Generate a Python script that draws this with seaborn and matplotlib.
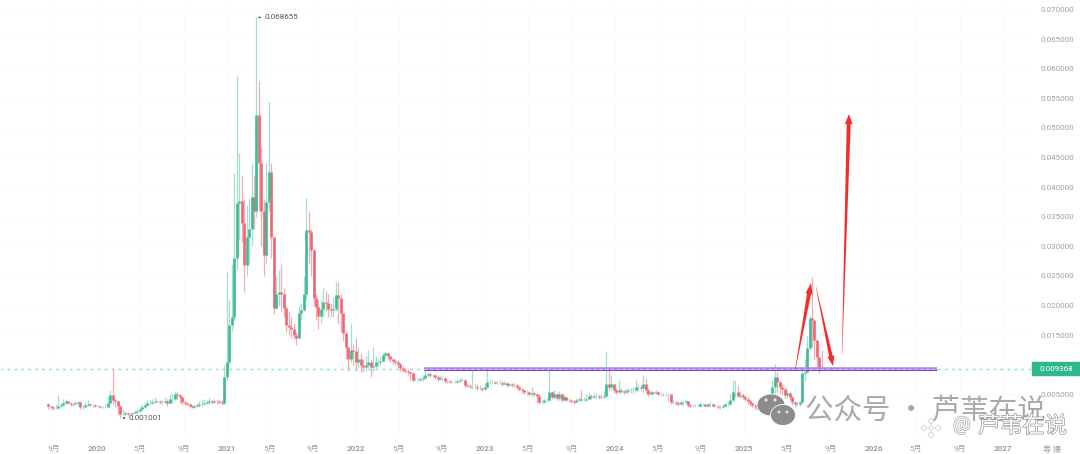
import numpy as np
import pandas as pd
import seaborn as sns
import matplotlib
matplotlib.use('Agg')
import matplotlib.pyplot as plt
import matplotlib.dates as mdates
import matplotlib.patheffects as pe
from matplotlib.patches import Polygon, Ellipse, Rectangle, RegularPolygon
from matplotlib.transforms import IdentityTransform

# weekly candles, prices in units of 0.001
first_open = 3.3
closes = [
    3.1,2.8,2.7,2.7,3.0,3.2,3.6,3.8,3.6,3.4,
    3.3,3.5,3.7,2.9,2.9,3.2,3.3,3.2,3.2,3.1,
    3.0,2.9,2.9,2.9,3.6,4.9,4.0,3.8,3.0,1.6,
    1.7,1.8,1.6,1.7,1.9,2.1,2.2,2.5,2.8,3.2,
    3.5,3.5,3.7,3.9,3.8,3.7,3.7,3.8,3.5,4.2,
    4.3,5.0,4.9,4.6,3.7,3.6,3.4,3.1,2.9,3.0,
    3.2,3.3,3.4,3.6,3.7,3.8,3.7,3.9,3.8,3.7,
    3.5,8.0,10.5,16.7,18,28,37.3,37.6,34,26.8,
    31.5,33,38.3,36,52.2,44,36,28.5,37.5,42.5,
    31.5,19.6,22,22.3,22,19.6,16.7,16.3,16,15,
    14.5,18.7,19.2,22,32.8,32.5,29.4,21.3,19.7,18.3,
    19.5,20.6,20.4,19.5,19.2,19.5,21.8,21.3,18.7,15.4,
    13,11,12.5,12.3,10.5,11,9.9,9.6,10,10.5,
    9.6,9.8,10.5,10.5,10.7,11.6,12,11.4,11,10.7,
    10.5,10.2,9.4,9.1,9,8.7,8.6,7.4,7.5,7.5,
    7.6,7.7,8.2,8.4,8.3,8.2,8,7.6,7.7,7.8,
    7.3,7.2,7.1,7.1,7.1,7.3,7.5,7.4,6.6,6.4,
    6.2,6.2,6.3,6,6,5.9,6.2,7.1,7.1,7.1,
    7,7,7,6.8,7,6.6,6.7,6.5,6.6,6.2,
    5.9,5.7,5.4,5.4,5,5.2,5.1,4.8,3.7,3.7,
    4,4,5.4,4.5,5.1,4.4,5,4.1,4.5,4.1,
    4,3.8,3.7,4,4.2,4.1,4.1,4.3,4.7,4.5,
    4.8,4.8,4.5,4.6,4.8,6.8,6.3,6.8,5.7,5.4,
    5.7,5.6,5.4,5.6,5.7,5.7,5.7,6.2,6.2,6,
    6.8,5.8,5.1,5.4,5.3,5.4,5.1,5.1,5,5,
    5,3.7,3.7,3.6,3.4,3.7,3.7,3.8,3.2,3,
    3.1,3.1,3.1,3.3,3.3,3.1,3.3,3.4,3.1,3.1,
    2.9,2.9,3.1,3.3,3.4,4,5.4,5.4,4.8,4.9,
    4.6,4.3,3.9,3.5,3.2,3,2.7,2.9,2.7,2.6,
    2.5,2.6,6.2,7.9,7.1,6.2,5.9,4.9,5.2,4.6,
    3.7,3.3,3.3,3.7,8.6,8.8,12.9,17.9,17.5,14.1,11.3,9.4,9.368,
]
highs = [
    3.6,3.0,3.0,3.3,4.9,3.6,4.2,4.2,3.9,3.7,
    3.6,3.8,3.9,3.8,3.2,3.7,4.1,3.5,3.4,3.3,
    3.2,3.1,3.0,3.3,4.8,5.8,9.4,4.2,3.9,3.1,
    2.6,2.2,2.0,1.9,2.1,2.4,2.5,2.9,3.3,3.7,
    4.1,4.0,4.2,4.5,4.1,4.0,4.1,4.6,4.2,5.1,
    5.2,5.6,5.4,5.0,4.7,3.9,3.7,3.5,3.2,3.3,
    3.6,3.9,4.0,4.2,4.1,4.6,4.2,4.3,4.2,4.1,
    4.0,10,25.6,21,27,42.4,58.8,45.8,42,38,
    37,38,44,42,68.655,58,46.8,38,44,54.4,
    44,31.5,25,26,27,23,20,19,18,17,
    15.5,20,20.5,25,38.2,36,33,29.5,22,21,
    21,23,22.5,22,20.5,21.5,24,24,22,18.7,
    15.5,13,17,13.5,14.5,13,12,11,11.5,12.5,
    11,13,11.5,11,11.5,12,12.3,12.2,11.5,11.2,
    11,10.8,10.5,9.8,9.4,9.2,9,8.7,7.9,7.9,
    8.0,8.2,9.5,8.8,8.7,8.5,8.4,8.2,8.2,8.1,
    7.9,7.5,7.4,7.3,7.4,7.6,7.8,7.8,7.6,6.8,
    6.7,9.3,7,6.7,6.5,6.3,7.0,9.5,7.5,7.4,
    7.3,7.3,7.4,7.2,7.3,7.1,7,6.9,6.9,6.8,
    6.4,6.1,5.9,5.7,5.5,6.2,5.5,5.2,5,4.1,
    4.3,4.4,9.3,5.6,5.8,5.3,5.6,5.2,4.9,4.7,
    4.4,4.2,4,4.4,4.6,5.7,4.5,5.0,5.2,5,
    5.2,5.2,5,5,5.5,12.3,9.5,8.3,7,6,
    7.5,6,5.8,6,6,6.1,6.2,7.5,6.8,6.5,
    8.2,7.8,6,5.8,5.6,5.7,5.6,5.4,5.3,5.2,
    5.2,5,4,3.9,3.8,4.1,4,4.3,3.9,3.4,
    3.4,3.4,3.4,3.7,3.6,3.4,3.6,3.7,3.6,3.4,
    3.2,3.2,3.4,3.6,3.9,5,7.4,7.4,6.5,5.6,
    5.2,4.8,4.5,4,3.7,3.4,3.1,3.4,3.1,2.9,
    2.9,4.5,7.5,10.1,8.8,7.4,6.8,6.2,5.9,5.5,
    4.8,3.9,3.8,4,9.4,11,14.8,18.3,24.8,17.5,14.2,11,12.5,
]
lows = [
    2.6,2.5,2.4,2.5,2.6,2.8,3.1,3.4,3.3,3.1,
    3.0,3.2,3.1,2.6,2.6,2.8,3.0,3.0,2.9,2.9,
    2.8,2.7,2.7,2.7,2.8,3.5,3.3,2.8,1.5,1.001,
    1.3,1.4,1.4,1.5,1.6,1.8,1.9,2.1,2.3,2.7,
    3.1,3.2,3.3,3.5,3.5,3.4,3.4,3.5,3.0,3.3,
    3.6,4.1,4.3,3.6,3.2,3.2,3.0,2.8,2.7,2.7,
    2.9,2.9,3.0,3.2,3.3,3.4,3.4,3.5,3.4,3.3,
    3.2,3.4,7.5,10.2,15.5,17.5,26,31,30.7,22.3,
    25,27,30,33,35,36,30,25,27,36,
    28,18.5,19.5,20,19,18,15.5,15,14.5,14.3,
    13.3,14.5,17.5,19,21,27,25,20,17.5,16,
    17,18,19,18,18,18,19,17,15.5,14,
    11,9,10.5,10,9,9.5,8.7,8.8,9,9.5,
    7.9,8.8,9.5,9.8,10,10.4,11.2,10.8,10.5,10.2,
    10,9.6,9,8.8,8.6,8.3,7.2,7.1,7.2,7.2,
    7.2,7.3,7.6,8,8,7.9,7.6,7.3,7.4,7.5,
    7,6.9,6.9,6.9,6.9,7,7.1,7.2,6.3,6.2,
    6,5.9,6,5.7,5.7,5.6,5.7,6,6.8,6.8,
    6.7,6.7,6.7,6.4,6.7,6.3,6.4,6.2,6.3,5.9,
    5.6,5.3,5.1,4.9,4.7,4.8,4.7,3.6,3.4,3.4,
    3.5,3.7,3.9,4.2,4.2,4.1,4.1,3.9,4,3.8,
    3.7,3.5,3.4,3.6,3.8,3.8,3.8,3.9,4.2,4.2,
    4.4,4.4,4.2,4.3,4.4,4.6,5.6,5.8,5.3,5,
    5.3,5.2,5.1,5.2,5.3,5.3,5.3,5.4,5.5,5.6,
    5.3,5,4.7,4.9,5,5,4.8,4.8,4.7,4.8,
    3.7,3.3,3.3,3.2,3,3.2,3.2,3.4,2.9,2.7,
    2.8,2.8,2.8,2.9,3,2.8,2.9,3,2.8,2.8,
    2.6,2.6,2.7,2.9,3,3.2,3.8,4.6,4.5,4.4,
    4.2,3.8,3.4,3.1,2.8,2.6,2.3,2.4,2.3,2.1,
    2,2.1,2.3,4.5,5.4,5.2,4.9,4.4,4.4,4,
    3.2,2.9,3,3.1,3.6,7.3,8.6,12.5,13,11,9.2,8.6,8.9,
]

tick_dates = ['2019-09-01','2020-01-01','2020-05-01','2020-09-01','2021-01-01','2021-05-01',
              '2021-09-01','2022-01-01','2022-05-01','2022-09-01','2023-01-01','2023-05-01',
              '2023-09-01','2024-01-01','2024-05-01','2024-09-01','2025-01-01','2025-05-01',
              '2025-09-01','2026-01-01','2026-05-01','2026-09-01','2027-01-01']
tick_labels = ['9月','2020','5月','9月','2021','5月','9月','2022','5月','9月','2023','5月',
               '9月','2024','5月','9月','2025','5月','9月','2026','5月','9月','2027']
price_ticks = [0.005,0.010,0.015,0.020,0.025,0.030,0.035,0.040,0.045,0.050,0.055,0.060,0.065,0.070]
last_price = 0.009368
max_price = 0.068655
min_price = 0.001001

c = np.array(closes) / 1000
h = np.array(highs) / 1000
l = np.array(lows) / 1000
o = np.r_[first_open / 1000, c[:-1]]
weeks = pd.date_range('2019-08-16', periods=len(c), freq='7D')
direction = np.where(c >= o, 'up', 'down')

wicks = pd.DataFrame({'date': np.r_[weeks, weeks], 'price': np.r_[h, l],
                      'week': np.r_[np.arange(len(c)), np.arange(len(c))],
                      'dir': np.r_[direction, direction]})
bodies = pd.DataFrame({'date': np.r_[weeks, weeks], 'price': np.r_[o, c],
                       'week': np.r_[np.arange(len(c)), np.arange(len(c))],
                       'dir': np.r_[direction, direction]})

sns.set_theme(style='whitegrid', rc={'grid.color': '#fafafa', 'grid.linewidth': 0.7,
                                     'axes.edgecolor': 'white', 'lines.solid_capstyle': 'butt'})
plt.rcParams['font.family'] = ['Roboto', 'Noto Sans CJK SC', 'DejaVu Sans']

W, H = 1080, 454
fig = plt.figure(figsize=(W / 100, H / 100), dpi=100)
ax = fig.add_axes([0, 1 - 437 / H, 1032 / W, 437 / H])

sns.lineplot(data=wicks, x='date', y='price', units='week', estimator=None, hue='dir', sort=False,
             palette={'up': '#a3dfce', 'down': '#f6adb2'}, linewidth=0.9, legend=False, ax=ax, zorder=3)
sns.lineplot(data=bodies, x='date', y='price', units='week', estimator=None, hue='dir', sort=False,
             palette={'up': '#3dbb96', 'down': '#ef6670'}, linewidth=1.9, legend=False, ax=ax, zorder=4)

ax.set_xlim(pd.Timestamp('2019-04-02'), pd.Timestamp('2027-03-24'))
ax.set_ylim(-0.0022, 0.0716)
ax.set_xlabel('')
ax.set_ylabel('')
ax.set_xticks([mdates.date2num(pd.Timestamp(d)) for d in tick_dates])
ax.set_xticklabels(tick_labels)
ax.yaxis.tick_right()
ax.set_yticks(price_ticks)
ax.set_yticklabels(['%.6f' % p for p in price_ticks])
ax.tick_params(axis='x', length=0, pad=6, labelsize=5.8, labelcolor='#a0a0a0')
ax.tick_params(axis='y', length=0, pad=6, labelsize=5.8, labelcolor='#a0a0a0')
for lab in ax.get_xticklabels():
    if lab.get_text().startswith('20'):
        lab.set_fontweight('bold')
fig.text(1052 / W, 1 - 449 / H, '等 爆', fontsize=5.8, color='#a0a0a0', ha='center', va='center')

# last price line and label
ax.axhline(last_price, color='#8fdcc8', lw=1, ls=(0, (2, 3)), zorder=2)
trans = ax.get_yaxis_transform()
ax.add_patch(Rectangle((1, last_price - 0.0011), 48 / 1032, 0.0022, transform=trans,
                       color='#2fb88f', clip_on=False, zorder=6))
ax.text(1 + 24 / 1032, last_price, '%.6f' % last_price, transform=trans, color='white',
        fontsize=5.8, ha='center', va='center', zorder=7)

# purple support band
band_x = [pd.Timestamp('2022-07-13'), pd.Timestamp('2026-06-29')]
ax.plot(band_x, [last_price, last_price], color='#b583ee', lw=2.6, zorder=5)
ax.plot(band_x, [last_price, last_price], color='#dcc4f7', lw=0.7, ls=(0, (3, 3)), zorder=5)
ax.plot(band_x, [last_price - 0.00027, last_price - 0.00027], color='#6d3bc4', lw=0.6, zorder=5)

# high / low marks
for date, price, txt_off in [('2021-03-26', max_price, (6, 0)), ('2020-03-09', min_price, (5, 0))]:
    ax.annotate('%.6f' % price, xy=(pd.Timestamp(date), price), xytext=txt_off,
                textcoords='offset points', fontsize=5.8, color='#555555', va='center',
                arrowprops=dict(arrowstyle='-|>,head_width=0.08,head_length=0.15', color='#555555',
                                lw=0.5, shrinkA=0.5, shrinkB=1), zorder=8)


def px(x, y):
    return (x, H - y)


def arrow(tail, tip, w0, w1, head_w, head_l):
    tail, tip = np.array(tail, float), np.array(tip, float)
    d = (tip - tail) / np.hypot(*(tip - tail))
    n = np.array([-d[1], d[0]])
    neck = tip - d * head_l
    pts = [tail + n * w0 / 2, neck + n * w1 / 2, neck + n * head_w / 2, tip,
           neck - n * head_w / 2, neck - n * w1 / 2, tail - n * w0 / 2]
    fig.add_artist(Polygon([px(*p) for p in pts], closed=True, color='#f42c2c', lw=0,
                           transform=IdentityTransform(), zorder=9))


arrow((795, 371), (811, 283), 0.3, 4, 7, 11)
arrow((816, 287), (833, 366), 0.3, 3.6, 7, 10)
arrow((842, 354), (849, 114), 0.3, 4, 7.5, 10)

# watermarks
for (cx, cy), (ew, eh) in [((771, 405), (28, 22)), ((783, 415), (25, 21))]:
    fig.add_artist(Ellipse(px(cx, cy), ew, eh, color='#8c8c8c', ec='white', lw=0.6,
                           transform=IdentityTransform(), zorder=10))
for ex, ey, r in [(766, 400, 1.6), (775, 400, 1.6), (779, 412, 1.4), (787, 412, 1.4)]:
    fig.add_artist(Ellipse(px(ex, ey), 2 * r, 2 * r, color='#e4e4e4', lw=0,
                           transform=IdentityTransform(), zorder=10))
fig.text(805 / W, 1 - 411 / H, '公众号 · 芦苇在说', family=['Noto Sans CJK SC', 'DejaVu Sans'],
         fontsize=20.5, color='#a9a9a9', ha='left', va='center', zorder=11)
for cx, cy, r in [(931, 421, 3.2), (924, 428, 3.2), (938, 428, 3.2), (931, 435, 3.2), (931, 428, 2.6)]:
    fig.add_artist(RegularPolygon(px(cx, cy), 4, radius=r, fc='white', ec='#c8c8c8', lw=0.5,
                                  transform=IdentityTransform(), zorder=11))
fig.text(953 / W, 1 - 425 / H, '@', family=['Roboto', 'DejaVu Sans'], fontsize=14, color='white',
         ha='left', va='center', zorder=12,
         path_effects=[pe.withStroke(linewidth=0.9, foreground='#a0a0a0')])
fig.text(978 / W, 1 - 426 / H, '芦苇在说', family=['Noto Sans CJK SC', 'DejaVu Sans'], fontsize=16,
         color='white', ha='left', va='center', zorder=12,
         path_effects=[pe.withStroke(linewidth=0.9, foreground='#8c8c8c')])

fig.savefig('out.png', dpi=100)
